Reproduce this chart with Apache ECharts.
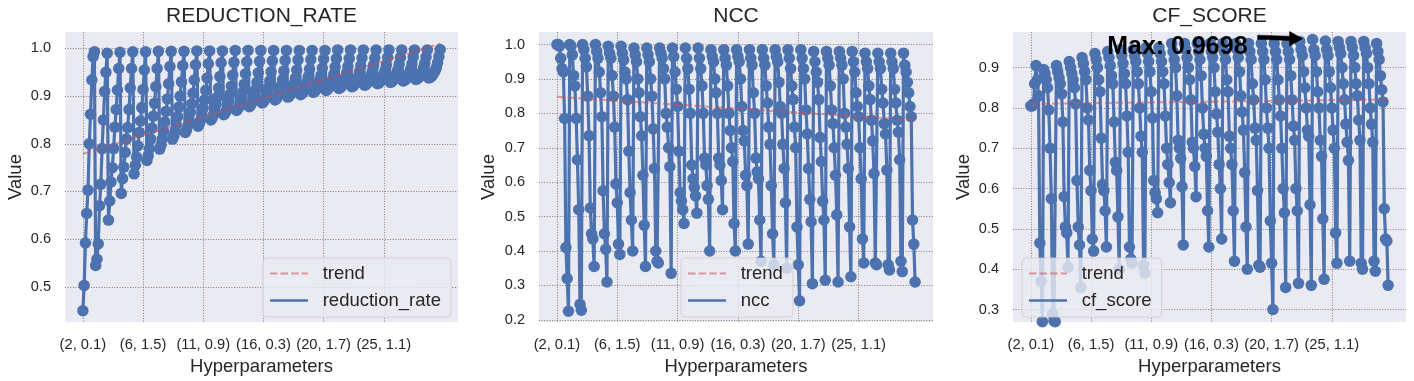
<!DOCTYPE html>
<html><head><meta charset="utf-8">
<script src="https://cdn.jsdelivr.net/npm/echarts@6/dist/echarts.min.js"></script>
<style>html,body{margin:0;padding:0;background:#fff}#c{width:1414px;height:381px}</style>
</head><body><div id="c"></div>
<script>
const firstParams = [2,3,4,5,6,7,8,9,10,11,12,13,14,15,16,17,18,19,20,21,22,23,24,25,26,27,28,29];
const secondParams = ['0.1','0.3','0.5','0.7','0.9','1.1','1.3','1.5','1.7','1.9'];
const tickIndices = [0,47,94,141,188,235];
const tickLabels = ['(2, 0.1)','(6, 1.5)','(11, 0.9)','(16, 0.3)','(20, 1.7)','(25, 1.1)'];
const panelTitles = ['REDUCTION_RATE','NCC','CF_SCORE'];
const seriesNames = ['reduction_rate','ncc','cf_score'];

const reductionRate = [
0.450,0.503,0.592,0.654,0.703,0.800,0.862,0.934,0.983,0.993,
0.545,0.558,0.590,0.670,0.715,0.790,0.850,0.910,0.950,0.990,
0.640,0.680,0.720,0.750,0.790,0.835,0.872,0.913,0.958,0.992,
0.696,0.727,0.751,0.782,0.810,0.834,0.872,0.917,0.958,0.993,
0.737,0.755,0.772,0.796,0.824,0.848,0.876,0.914,0.955,0.993,
0.765,0.775,0.790,0.810,0.833,0.858,0.885,0.920,0.958,0.994,
0.789,0.797,0.810,0.826,0.846,0.868,0.894,0.926,0.962,0.994,
0.810,0.816,0.826,0.840,0.857,0.877,0.900,0.930,0.964,0.994,
0.824,0.829,0.838,0.850,0.866,0.884,0.906,0.934,0.966,0.995,
0.837,0.842,0.850,0.861,0.875,0.892,0.912,0.938,0.968,0.995,
0.850,0.854,0.861,0.871,0.883,0.898,0.917,0.941,0.970,0.995,
0.861,0.864,0.870,0.879,0.890,0.904,0.921,0.944,0.971,0.996,
0.870,0.873,0.878,0.886,0.896,0.909,0.925,0.947,0.972,0.996,
0.878,0.881,0.886,0.893,0.902,0.914,0.929,0.949,0.973,0.996,
0.886,0.888,0.892,0.898,0.907,0.918,0.932,0.951,0.974,0.996,
0.892,0.894,0.898,0.904,0.912,0.922,0.935,0.953,0.975,0.996,
0.898,0.900,0.903,0.909,0.916,0.926,0.938,0.955,0.976,0.996,
0.903,0.905,0.908,0.913,0.920,0.929,0.941,0.957,0.977,0.996,
0.908,0.910,0.913,0.918,0.924,0.933,0.944,0.959,0.978,0.996,
0.912,0.914,0.917,0.921,0.927,0.935,0.946,0.961,0.979,0.997,
0.916,0.918,0.921,0.925,0.931,0.939,0.949,0.962,0.979,0.997,
0.920,0.921,0.924,0.928,0.934,0.941,0.951,0.964,0.980,0.997,
0.923,0.924,0.927,0.931,0.936,0.943,0.952,0.965,0.980,0.997,
0.926,0.927,0.930,0.933,0.938,0.945,0.954,0.966,0.981,0.997,
0.929,0.930,0.932,0.936,0.941,0.947,0.956,0.967,0.981,0.997,
0.932,0.933,0.935,0.938,0.943,0.949,0.957,0.968,0.982,0.997,
0.935,0.936,0.938,0.941,0.945,0.951,0.959,0.969,0.982,0.997,
0.938,0.939,0.941,0.944,0.948,0.953,0.960,0.970,0.983,0.998
];

const ncc = [
1.000,1.000,0.995,0.960,0.930,0.920,0.785,0.410,0.320,0.225,
1.000,0.995,0.970,0.910,0.880,0.785,0.665,0.520,0.245,0.228,
1.000,0.985,0.960,0.935,0.850,0.735,0.525,0.450,0.435,0.355,
1.000,0.980,0.960,0.920,0.860,0.790,0.575,0.450,0.405,0.310,
0.995,0.975,0.960,0.910,0.850,0.760,0.595,0.540,0.420,0.390,
0.995,0.975,0.955,0.920,0.900,0.840,0.690,0.570,0.490,0.400,
0.990,0.970,0.950,0.900,0.860,0.790,0.735,0.620,0.475,0.355,
0.990,0.970,0.950,0.900,0.850,0.755,0.640,0.400,0.370,0.365,
0.990,0.975,0.960,0.930,0.900,0.800,0.760,0.700,0.645,0.335,
0.990,0.965,0.920,0.870,0.820,0.690,0.570,0.545,0.520,0.480,
0.990,0.960,0.930,0.870,0.800,0.650,0.610,0.585,0.560,0.510,
0.990,0.960,0.930,0.880,0.800,0.670,0.650,0.590,0.550,0.400,
0.985,0.965,0.950,0.900,0.860,0.800,0.670,0.650,0.605,0.520,
0.985,0.960,0.940,0.880,0.800,0.750,0.700,0.660,0.480,0.400,
0.985,0.965,0.950,0.900,0.820,0.750,0.720,0.620,0.590,0.420,
0.985,0.960,0.940,0.860,0.800,0.670,0.630,0.610,0.490,0.370,
0.985,0.960,0.940,0.880,0.830,0.760,0.710,0.590,0.450,0.360,
0.985,0.965,0.950,0.890,0.820,0.800,0.710,0.640,0.540,0.350,
0.985,0.960,0.930,0.880,0.840,0.760,0.700,0.470,0.360,0.255,
0.985,0.960,0.930,0.900,0.810,0.740,0.640,0.550,0.485,0.305,
0.980,0.950,0.920,0.890,0.840,0.730,0.660,0.545,0.490,0.315,
0.980,0.960,0.940,0.880,0.810,0.770,0.700,0.620,0.505,0.310,
0.980,0.960,0.940,0.900,0.800,0.760,0.710,0.640,0.470,0.325,
0.980,0.950,0.920,0.860,0.820,0.790,0.700,0.610,0.435,0.365,
0.975,0.950,0.930,0.880,0.840,0.780,0.720,0.625,0.365,0.360,
0.975,0.950,0.930,0.870,0.830,0.770,0.740,0.635,0.360,0.345,
0.975,0.950,0.930,0.870,0.830,0.780,0.745,0.665,0.370,0.340,
0.975,0.940,0.920,0.890,0.860,0.820,0.790,0.490,0.420,0.310
];

const cfScore = [
0.805,0.805,0.810,0.860,0.905,0.870,0.830,0.465,0.370,0.270,
0.895,0.885,0.870,0.850,0.795,0.700,0.575,0.290,0.272,0.270,
0.905,0.890,0.875,0.860,0.835,0.765,0.580,0.505,0.490,0.405,
0.915,0.900,0.885,0.870,0.850,0.810,0.620,0.505,0.460,0.355,
0.925,0.910,0.890,0.870,0.800,0.770,0.645,0.595,0.475,0.445,
0.935,0.920,0.900,0.870,0.840,0.725,0.610,0.595,0.545,0.455,
0.940,0.925,0.905,0.880,0.860,0.765,0.665,0.645,0.530,0.400,
0.945,0.930,0.910,0.885,0.860,0.780,0.690,0.455,0.425,0.415,
0.945,0.930,0.915,0.890,0.860,0.800,0.730,0.690,0.410,0.390,
0.950,0.935,0.915,0.890,0.840,0.775,0.620,0.590,0.575,0.540,
0.950,0.935,0.915,0.890,0.860,0.780,0.700,0.660,0.615,0.565,
0.960,0.940,0.920,0.900,0.830,0.720,0.700,0.675,0.605,0.460,
0.960,0.945,0.925,0.900,0.870,0.820,0.715,0.700,0.655,0.580,
0.960,0.940,0.920,0.880,0.800,0.735,0.700,0.680,0.545,0.455,
0.960,0.940,0.925,0.900,0.840,0.785,0.740,0.660,0.600,0.475,
0.960,0.940,0.920,0.870,0.840,0.730,0.700,0.660,0.545,0.420,
0.960,0.945,0.925,0.890,0.830,0.790,0.745,0.640,0.505,0.400,
0.960,0.940,0.920,0.860,0.820,0.750,0.720,0.595,0.410,0.405,
0.960,0.940,0.920,0.870,0.800,0.750,0.700,0.520,0.415,0.300,
0.960,0.940,0.920,0.870,0.820,0.780,0.700,0.600,0.540,0.355,
0.960,0.940,0.920,0.880,0.820,0.755,0.720,0.600,0.545,0.365,
0.965,0.945,0.930,0.890,0.850,0.800,0.745,0.730,0.560,0.360,
0.9698,0.945,0.930,0.890,0.840,0.800,0.720,0.680,0.525,0.375,
0.966,0.945,0.930,0.890,0.850,0.800,0.745,0.700,0.490,0.415,
0.965,0.950,0.935,0.900,0.860,0.820,0.760,0.715,0.670,0.420,
0.965,0.950,0.930,0.900,0.860,0.830,0.770,0.720,0.415,0.400,
0.965,0.950,0.935,0.900,0.860,0.800,0.760,0.715,0.420,0.395,
0.960,0.940,0.920,0.880,0.845,0.815,0.550,0.475,0.470,0.360
];

const trendReduction = [0.779, 1.010];
const trendNcc = [0.848, 0.780];
const trendCf = [0.810, 0.821];

const categories = [];
firstParams.forEach(p => secondParams.forEach(s => categories.push('(' + p + ', ' + s + ')')));

const FONT = '"Liberation Sans", Arial, sans-serif';
const TXT = '#262626';
const BLUE = '#4C72B0';
const TREND = 'rgba(196,78,82,0.55)';

const panels = [
  {values: reductionRate, trend: trendReduction, left: 65, width: 393, ymin: 0.426, ymax: 1.0346, yticks: [0.5,0.6,0.7,0.8,0.9,1.0], legendLeft: 263, nameGap: 40},
  {values: ncc, trend: trendNcc, left: 539, width: 394, ymin: 0.1933, ymax: 1.0364, yticks: [0.2,0.3,0.4,0.5,0.6,0.7,0.8,0.9,1.0], legendLeft: 681, nameGap: 41},
  {values: cfScore, trend: trendCf, left: 1013, width: 393, ymin: 0.2689, ymax: 0.9883, yticks: [0.3,0.4,0.5,0.6,0.7,0.8,0.9], legendLeft: 1022, nameGap: 40}
];

const gridLine = {show: true, lineStyle: {color: 'rgba(90,90,90,0.75)', width: 1, type: [1, 1.6]}};
const grids = [], xAxes = [], yAxes = [], series = [], legends = [], graphics = [];
const nPts = categories.length;

panels.forEach((p, k) => {
  grids.push({left: p.left, top: 32, width: p.width, height: 293, show: true, backgroundColor: '#EAEAF2', borderWidth: 0});
  xAxes.push({
    type: 'value', gridIndex: k, min: -13.95, max: 292.95,
    name: 'Hyperparameters', nameLocation: 'middle', nameGap: 31,
    nameTextStyle: {fontFamily: FONT, fontSize: 18.5, color: TXT},
    axisLine: {show: false}, axisTick: {show: false, customValues: tickIndices},
    axisLabel: {customValues: tickIndices, margin: 15, fontFamily: FONT, fontSize: 14.7, color: TXT,
      formatter: v => tickLabels[tickIndices.indexOf(Math.round(v))] || ''},
    splitLine: gridLine
  });
  yAxes.push({
    type: 'value', gridIndex: k, min: p.ymin, max: p.ymax,
    name: 'Value', nameLocation: 'middle', nameGap: p.nameGap,
    nameTextStyle: {fontFamily: FONT, fontSize: 18.5, color: TXT},
    axisLine: {show: false}, axisTick: {show: false, customValues: p.yticks},
    axisLabel: {customValues: p.yticks, margin: 14, fontFamily: FONT, fontSize: 14.5, color: TXT,
      formatter: v => v.toFixed(1)},
    splitLine: gridLine
  });
  series.push({
    name: seriesNames[k], type: 'line', xAxisIndex: k, yAxisIndex: k,
    data: p.values.map((v, i) => [i, v]),
    symbol: 'circle', symbolSize: 11.5, showSymbol: true, showAllSymbol: true,
    itemStyle: {color: BLUE}, lineStyle: {color: BLUE, width: 3.2}, z: 2
  });
  series.push({
    name: 'trend', type: 'line', xAxisIndex: k, yAxisIndex: k,
    data: [[0, p.trend[0]], [nPts - 1, p.trend[1]]],
    symbol: 'none', itemStyle: {color: TREND},
    lineStyle: {color: TREND, width: 2, type: [7.4, 3.2]}, z: 3, silent: true
  });
  legends.push({
    orient: 'vertical', left: p.legendLeft, top: 258,
    padding: [5, 10, 6, 7], itemGap: 6, itemWidth: 38, itemHeight: 2.6,
    backgroundColor: 'rgba(234,234,242,0.8)', borderColor: 'rgba(204,204,204,0.8)', borderWidth: 1, borderRadius: 4,
    textStyle: {fontFamily: FONT, fontSize: 18.5, color: TXT, lineHeight: 21, padding: [0, 0, 0, 9.7]},
    selectedMode: false, z: 10,
    data: [
      {name: 'trend', icon: 'path://M0,0h7.4v2h-7.4zM10.6,0h7.4v2h-7.4zM21.2,0h7.4v2h-7.4zM31.8,0h6.2v2h-6.2z', itemStyle: {color: TREND}},
      {name: seriesNames[k], icon: 'rect', itemStyle: {color: BLUE}}
    ]
  });
  graphics.push({type: 'text', x: p.left + p.width / 2, y: 16, z: 10,
    style: {text: panelTitles[k], fill: TXT, font: '21px ' + FONT, textAlign: 'center', textVerticalAlign: 'middle'}});
});

const chart = echarts.init(document.getElementById('c'), null, {renderer: 'canvas'});
chart.setOption({
  animation: false,
  backgroundColor: '#ffffff',
  grid: grids, xAxis: xAxes, yAxis: yAxes, series: series, legend: legends, graphic: graphics
});

// Max annotation for cf_score, positioned from the data
const maxVal = Math.max(...cfScore);
const maxIdx = cfScore.indexOf(maxVal);
const pt = chart.convertToPixel({xAxisIndex: 2, yAxisIndex: 2}, [maxIdx, maxVal]);
const tipX = pt[0] - 10, tipY = pt[1] - 0.8, tailX = pt[0] - 55, tailY = pt[1] - 2.2;
const hl = 13, hw = 7.2, sw = 2.1;
graphics.push({
  type: 'polygon', z: 20,
  shape: {points: [
    [tailX, tailY - sw], [tipX - hl, tipY - sw - 0.3], [tipX - hl, tipY - hw], [tipX, tipY],
    [tipX - hl, tipY + hw], [tipX - hl, tipY + sw - 0.3], [tailX, tailY + sw]
  ]},
  style: {fill: '#000', stroke: '#000', lineWidth: 0.5}
});
graphics.push({
  type: 'text', z: 20, x: pt[0] - 65, y: pt[1] + 7.5,
  style: {text: 'Max: ' + maxVal.toFixed(4), fill: '#000', font: 'bold 25px ' + FONT, textAlign: 'right', textVerticalAlign: 'middle'}
});
chart.setOption({graphic: graphics});
</script></body></html>
